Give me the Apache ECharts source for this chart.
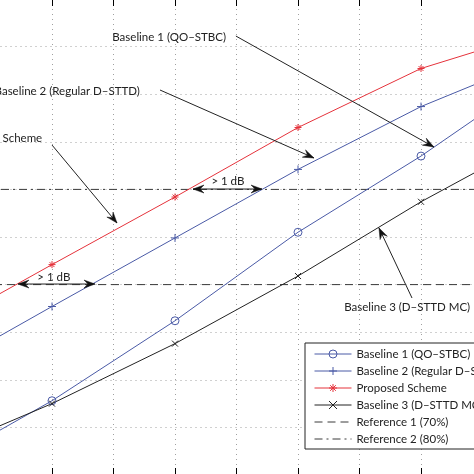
<!DOCTYPE html>
<html><head><meta charset="utf-8">
<script src="https://cdn.jsdelivr.net/npm/echarts@6/dist/echarts.min.js"></script>
<style>html,body{margin:0;padding:0;background:#fff}#c{width:474px;height:474px}</style>
</head><body><div id="c"></div>
<script>
// ---- data (SNR in dB, probability) ----
const snr = [8, 10, 12, 14, 16, 18];
const baseline1 = [0.505, 0.578, 0.662, 0.755, 0.835, 0.924]; // QO-STBC
const baseline2 = [0.604, 0.677, 0.749, 0.821, 0.887, 0.940]; // Regular D-STTD
const proposed  = [0.649, 0.721, 0.792, 0.865, 0.927, 0.967];
const baseline3 = [0.520, 0.575, 0.638, 0.709, 0.787, 0.857]; // D-STTD MC
const ref1 = 0.7, ref2 = 0.8;
const xRange = [9, 17], yRange = [0.5, 1.0];
const names = ['Baseline 1 (QO\u2013STBC)', 'Baseline 2 (Regular D\u2013STTD)', 'Proposed Scheme',
               'Baseline 3 (D\u2013STTD MC)', 'Reference 1 (70%)', 'Reference 2 (80%)'];

// annotations in data coordinates
const texts = [
  {t: 'Baseline 1 (QO\u2013STBC)', p: [10.98, 0.960], a: 'left'},
  {t: 'Baseline 2 (Regular D\u2013STTD)', p: [11.43, 0.9034], a: 'right'},
  {t: 'Proposed Scheme', p: [9.84, 0.854], a: 'right'},
  {t: '> 1 dB', p: [12.86, 0.8088], a: 'center'},
  {t: '> 1 dB', p: [10.03, 0.708], a: 'center'},
  {t: 'Baseline 3 (D\u2013STTD MC)', p: [14.75, 0.6765], a: 'left'}
];
// arrows: from -> to (tip); double: both ends
const arrows = [
  {f: [12.99, 0.9611], to: [16.21, 0.8445]},
  {f: [11.756, 0.9044], to: [14.26, 0.833]},
  {f: [10.0, 0.8466], to: [11.057, 0.7647]},
  {f: [12.293, 0.8004], to: [13.415, 0.8004], dbl: true},
  {f: [9.447, 0.7006], to: [10.699, 0.7006], dbl: true},
  {f: [15.854, 0.6859], to: [15.317, 0.7595]}
];

const BLUE = '#4a5aa6', RED = '#e5323b', BLACK = '#222';
const plusPath = 'path://M5,0L5,10M0,5L10,5';
const crossPath = 'path://M0,0L10,10M10,0L0,10';
const starPath = 'path://M5,0L5,10M0,5L10,5M1.5,1.5L8.5,8.5M8.5,1.5L1.5,8.5';

function pts(vals) { return snr.map((x, i) => [x, vals[i]]); }
function mk(name, vals, color, symbol, size) {
  return {
    name, type: 'line', data: pts(vals), symbol, symbolSize: size, showSymbol: true,
    lineStyle: {color, width: 1}, itemStyle: {color: 'transparent', borderColor: color, borderWidth: 1},
    emphasis: {disabled: true}, animation: false, z: 3
  };
}
function refLine(name, v, dash) {
  return {
    name, type: 'line', data: [[snr[0], v], [snr[snr.length - 1], v]], symbol: 'circle', symbolSize: 0,
    showSymbol: false, lineStyle: {color: '#3a3a3a', width: 1, type: dash},
    itemStyle: {color: 'transparent', borderWidth: 0}, emphasis: {disabled: true}, animation: false, z: 2
  };
}

const chart = echarts.init(document.getElementById('c'), null, {renderer: 'canvas'});
const axisCommon = {
  type: 'value', min: xRange[0], max: xRange[1], interval: 1,
  axisLabel: {show: false}, axisLine: {show: true, lineStyle: {color: '#000'}},
  axisTick: {show: true, inside: true, length: 7, lineStyle: {color: '#000'}}
};
chart.setOption({
  animation: false,
  grid: {left: -9.5, right: -8.5, top: -1, bottom: -1, outerBoundsMode: 'none', containLabel: false},
  xAxis: [
    Object.assign({}, axisCommon, {position: 'bottom',
      splitLine: {show: true, lineStyle: {color: '#a0a0a0', width: 1, type: [1, 4]}}}),
    Object.assign({}, axisCommon, {position: 'top', splitLine: {show: false}})
  ],
  yAxis: {
    type: 'value', min: yRange[0], max: yRange[1], interval: 0.05,
    axisLabel: {show: false}, axisLine: {show: false}, axisTick: {show: false},
    splitLine: {show: true, lineStyle: {color: '#a0a0a0', width: 1, type: [1, 4]}}
  },
  legend: {
    data: names, orient: 'vertical', left: 305, top: 343,
    padding: [5, 10, 4, 9], itemGap: 5, itemWidth: 37, itemHeight: 10,
    backgroundColor: '#fff', borderColor: '#222', borderWidth: 1, borderRadius: 0,
    selectedMode: false,
    lineStyle: {width: 1},
    itemStyle: {borderWidth: 1},
    textStyle: {fontFamily: 'Lato', fontSize: 11.5, color: '#222', lineHeight: 12, padding: [0, 0, 0, 0]}
  },
  series: [
    mk(names[0], baseline1, BLUE, 'circle', 8),
    mk(names[1], baseline2, BLUE, plusPath, 8),
    mk(names[2], proposed, RED, starPath, 7),
    mk(names[3], baseline3, BLACK, crossPath, 6),
    refLine(names[4], ref1, [8, 5]),
    refLine(names[5], ref2, [8, 4, 2, 4])
  ]
});

const toPx = p => chart.convertToPixel({gridIndex: 0}, p);
function head(tip, from) {
  const dx = tip[0] - from[0], dy = tip[1] - from[1];
  const L = Math.hypot(dx, dy), ux = dx / L, uy = dy / L, nx = -uy, ny = ux;
  const len = 11, hw = 4, notch = 4;
  const b = [tip[0] - ux * len, tip[1] - uy * len];
  const n = [tip[0] - ux * (len - notch), tip[1] - uy * (len - notch)];
  return {type: 'polygon', silent: true, z: 10,
    shape: {points: [tip, [b[0] + nx * hw, b[1] + ny * hw], n, [b[0] - nx * hw, b[1] - ny * hw]]},
    style: {fill: '#111', stroke: '#111', lineWidth: 0.5}};
}
const g = [];
texts.forEach(o => {
  const p = toPx(o.p);
  g.push({type: 'text', silent: true, z: 10, x: p[0], y: p[1],
    style: {text: o.t, fill: '#222', font: '11.5px Lato', align: o.a, verticalAlign: 'middle'}});
});
arrows.forEach(o => {
  const f = toPx(o.f), t = toPx(o.to);
  g.push({type: 'line', silent: true, z: 10, shape: {x1: f[0], y1: f[1], x2: t[0], y2: t[1]},
    style: {stroke: '#222', lineWidth: 1}});
  g.push(head(t, f));
  if (o.dbl) g.push(head(f, t));
});
chart.setOption({graphic: g});
</script></body></html>
